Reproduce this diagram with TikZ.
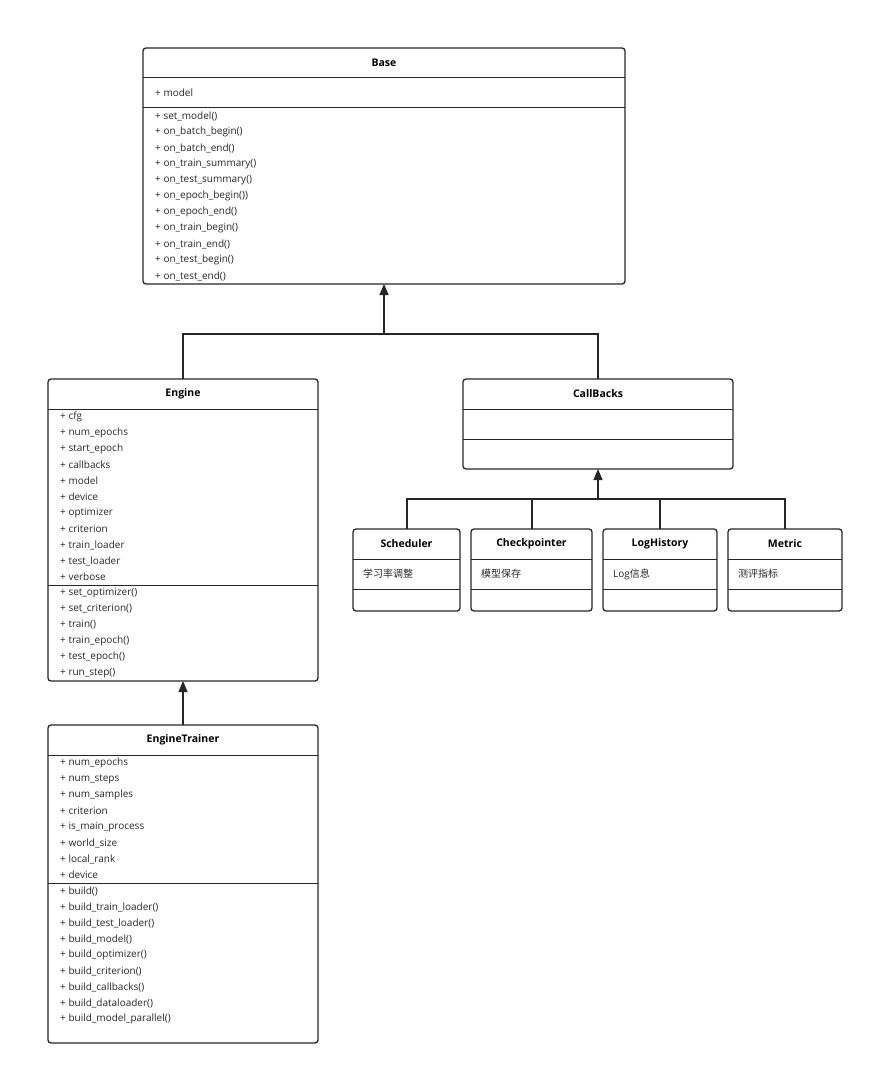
\documentclass[tikz,border=0pt]{standalone}
\usepackage{fontspec}
\setmainfont{Open Sans}
\newfontfamily\cjk{Noto Sans CJK SC}
\usetikzlibrary{arrows.meta}
\begin{document}
\begin{tikzpicture}[x=1pt,y=-1pt,
  box/.style={draw=black!85,line width=1.3pt,rounded corners=3pt},
  sep/.style={draw=black!85,line width=1pt},
  ttl/.style={font=\fontsize{10.5}{12}\selectfont\bfseries,inner sep=0pt},
  txt/.style={font=\fontsize{10}{12}\selectfont,anchor=west,inner sep=0pt,text=black!85},
  inh/.style={draw=black!85,line width=1.3pt,-{Triangle[length=11pt,width=9pt]}}]
\useasboundingbox (0,0) rectangle (874,1075);
% Base
\draw[box] (143,48) rectangle (625,284);
\draw[sep] (143,78) -- (625,78) (143,108) -- (625,108);
\node[ttl] (base) at (384,63) {Base};
\node[txt] at (155,93) {+ model};
\foreach \t [count=\i from 0] in {set\_model(),on\_batch\_begin(),on\_batch\_end(),on\_train\_summary(),on\_test\_summary(),on\_epoch\_begin()),on\_epoch\_end(),on\_train\_begin(),on\_train\_end(),on\_test\_begin(),on\_test\_end()}
  \node[txt] at (155,116+16*\i) {+ \t};
\coordinate (baseb) at (384,284);
% Engine
\draw[box] (48,379) rectangle (318,681);
\draw[sep] (48,409) -- (318,409) (48,585) -- (318,585);
\node[ttl] (engine) at (183,394) {Engine};
\foreach \t [count=\i from 0] in {cfg,num\_epochs,start\_epoch,callbacks,model,device,optimizer,criterion,train\_loader,test\_loader,verbose}
  \node[txt] at (60,417+16*\i) {+ \t};
\foreach \t [count=\i from 0] in {set\_optimizer(),set\_criterion(),train(),train\_epoch(),test\_epoch(),run\_step()}
  \node[txt] at (60,593+16*\i) {+ \t};
% EngineTrainer
\draw[box] (48,725) rectangle (318,1043);
\draw[sep] (48,755) -- (318,755) (48,883) -- (318,883);
\node[ttl] (et) at (183,740) {EngineTrainer};
\foreach \t [count=\i from 0] in {num\_epochs,num\_steps,num\_samples,criterion,is\_main\_process,world\_size,local\_rank,device}
  \node[txt] at (60,763+16*\i) {+ \t};
\foreach \t [count=\i from 0] in {build(),build\_train\_loader(),build\_test\_loader(),build\_model(),build\_optimizer(),build\_criterion(),build\_callbacks(),build\_dataloader(),build\_model\_parallel()}
  \node[txt] at (60,891+16*\i) {+ \t};
% CallBacks
\draw[box] (463,379) rectangle (733,469);
\draw[sep] (463,409) -- (733,409) (463,439) -- (733,439);
\node[ttl] (cb) at (598,394) {CallBacks};
% children
\foreach \xa/\xb/\n/\lab/\sub in {353/460/sch/Scheduler/{\cjk 学习率调整},471/592/ckp/Checkpointer/{\cjk 模型保存},603/717/log/LogHistory/{Log\cjk 信息},728/842/met/Metric/{\cjk 测评指标}}{
  \draw[box] (\xa,529) rectangle (\xb,611);
  \draw[sep] (\xa,559) -- (\xb,559) (\xa,589) -- (\xb,589);
  \node[ttl] (\n) at ({(\xa+\xb)/2},544) {\lab};
  \node[txt] at (\xa+10,574) {\sub};
}
% connectors
\draw[draw=black!85,line width=1.3pt] (183,379) -- (183,334) -- (598,334) -- (598,379);
\draw[inh] (384,334) -- (baseb);
\draw[inh] (183,725) -- (183,681);
\draw[draw=black!85,line width=1.3pt] (407,529) -- (407,499) -- (785,499) -- (785,529)
  (532,499) -- (532,529) (660,499) -- (660,529);
\draw[inh] (598,499) -- (598,469);
\end{tikzpicture}
\end{document}
